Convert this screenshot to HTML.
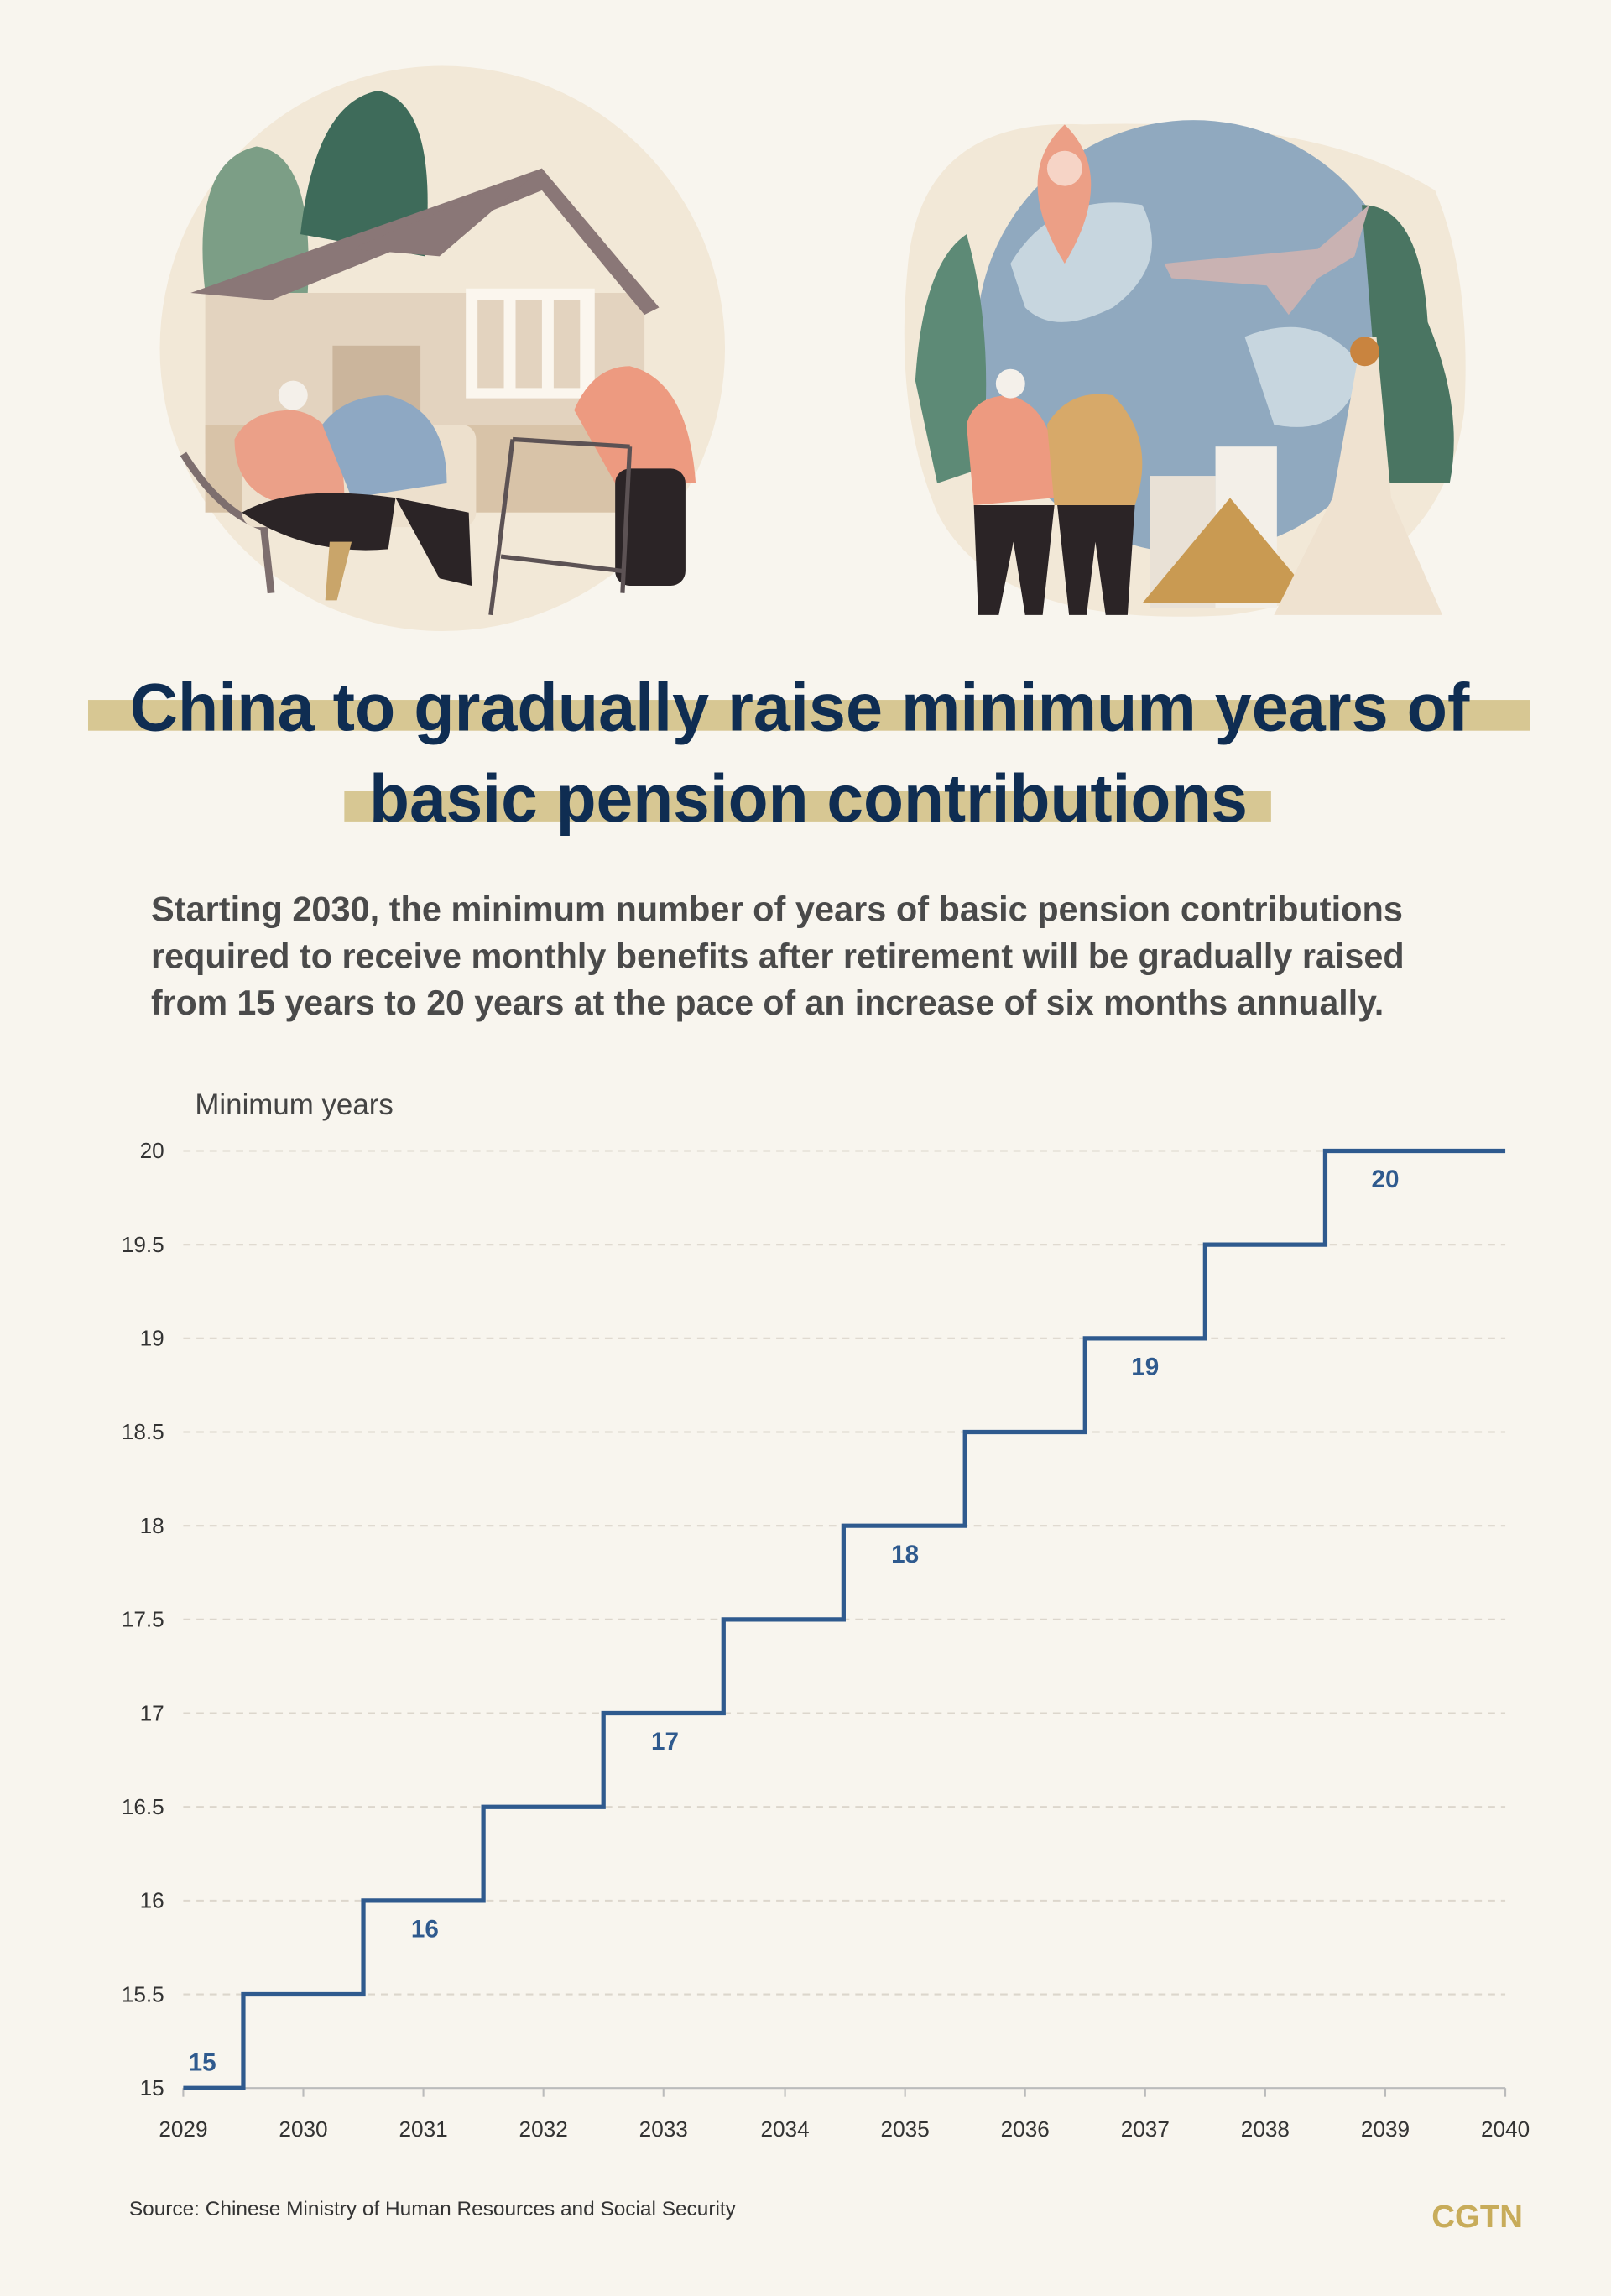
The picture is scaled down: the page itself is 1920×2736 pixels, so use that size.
<!DOCTYPE html>
<html><head><meta charset="utf-8"><style>
html,body{margin:0;padding:0;background:#f8f5ee;}
svg{display:block;}
</style></head><body>
<svg width="1920" height="2736" viewBox="0 0 1100 1568" xmlns="http://www.w3.org/2000/svg" font-family="Liberation Sans, sans-serif">
<rect width="1100" height="1568" fill="#f8f5ee"/>
<!-- left illustration -->
<circle cx="302" cy="238" r="193" fill="#f2e8d7"/>
<path d="M140 200 Q130 110 175 100 Q215 105 210 200Z" fill="#7c9e86"/>
<path d="M205 160 Q215 70 258 62 Q300 70 290 175Z" fill="#3e6b5a"/>
<rect x="140" y="200" width="300" height="110" fill="#e3d3bf"/>
<polygon points="130,200 370,115 450,210 440,215 370,130 185,205" fill="#8a7777"/>
<polygon points="240,170 370,115 300,175" fill="#8a7777"/>
<rect x="318" y="197" width="88" height="75" fill="#fbf6ee"/>
<rect x="326" y="205" width="18" height="60" fill="#e3d3bf"/><rect x="352" y="205" width="18" height="60" fill="#e3d3bf"/><rect x="378" y="205" width="18" height="60" fill="#e3d3bf"/>
<rect x="227" y="236" width="60" height="80" fill="#cbb59c"/>
<rect x="140" y="290" width="310" height="60" fill="#d8c3a8"/>
<path d="M125 310 Q150 350 180 360 L185 405" stroke="#7d6e6e" stroke-width="5" fill="none"/>
<rect x="165" y="290" width="160" height="70" rx="10" fill="#ede0cd"/>
<path d="M160 300 Q170 280 200 280 Q235 285 235 340 L200 345 Q160 340 160 300Z" fill="#eba088"/>
<circle cx="200" cy="270" r="10" fill="#f4f0ea"/>
<path d="M220 290 Q235 270 265 270 Q305 280 305 330 L240 340Z" fill="#8ea8c3"/>
<path d="M165 350 Q200 330 270 340 L265 375 Q210 380 165 350Z" fill="#2b2426"/>
<path d="M270 340 L320 350 L322 400 L300 395Z" fill="#2b2426"/>
<path d="M225 370 L240 370 L230 410 L222 410Z" fill="#c9a56a"/>
<path d="M392 280 Q405 250 430 250 Q470 260 475 330 L420 330Z" fill="#ed9a80"/>
<rect x="420" y="320" width="48" height="80" rx="10" fill="#2b2426"/>
<path d="M350 300 L335 420 M430 305 L425 405 M350 300 L430 305 M342 380 L425 390" stroke="#5c5254" stroke-width="3" fill="none"/>
<!-- right illustration -->
<path d="M620 180 Q630 80 740 85 Q900 80 980 130 Q1005 190 1000 280 Q985 400 840 420 Q680 430 640 350 Q610 280 620 180Z" fill="#f2e8d7"/>
<circle cx="815" cy="230" r="148" fill="#90a9bf"/>
<path d="M690 180 Q720 130 780 140 Q800 180 760 210 Q720 230 700 210Z" fill="#c7d6df"/>
<path d="M850 230 Q900 210 930 250 Q920 300 870 290Z" fill="#c7d6df"/>
<path d="M625 260 Q630 180 660 160 Q680 230 670 320 L640 330Z" fill="#5d8a76"/>
<path d="M930 140 Q970 140 975 220 Q1000 280 990 330 L945 330Z" fill="#4a7562"/>
<path d="M795 180 L900 170 L935 140 L925 175 L900 190 L880 215 L865 195 L800 190Z" fill="#c9b2b2"/>
<path d="M727 180 Q690 120 727 85 Q763 120 727 180Z" fill="#ec9f86"/>
<circle cx="727" cy="115" r="12" fill="#f6d4c6"/>
<rect x="785" y="325" width="45" height="90" fill="#e9e1d6"/><rect x="830" y="305" width="42" height="110" fill="#f3efe8"/>
<polygon points="780,412 840,340 900,412" fill="#c99a52"/>
<polygon points="870,420 910,340 930,230 940,230 950,340 985,420" fill="#efe2d0"/>
<circle cx="932" cy="240" r="10" fill="#c9843f"/>
<path d="M660 290 Q665 270 690 270 Q725 280 720 340 L665 345Z" fill="#ed9a80"/>
<circle cx="690" cy="262" r="10" fill="#f4f0ea"/>
<path d="M715 290 Q730 265 760 270 Q790 300 775 345 L720 345Z" fill="#d7a969"/>
<path d="M665 345 L720 345 L712 420 L700 420 L692 370 L682 420 L668 420Z" fill="#2b2426"/>
<path d="M722 345 L775 345 L770 420 L755 420 L748 370 L742 420 L730 420Z" fill="#2b2426"/>
<!-- title -->
<rect x="60" y="478" width="985" height="21" fill="#d7c793"/>
<rect x="235" y="540" width="633" height="21" fill="#d7c793"/>
<text x="546" y="499" text-anchor="middle" font-size="46" font-weight="bold" fill="#0f2d52" textLength="915" lengthAdjust="spacingAndGlyphs">China to gradually raise minimum years of</text>
<text x="552" y="561" text-anchor="middle" font-size="46" font-weight="bold" fill="#0f2d52" textLength="600" lengthAdjust="spacingAndGlyphs">basic pension contributions</text>
<g font-size="24" fill="#4a4a4a" font-weight="bold">
<text x="103" y="629" textLength="855" lengthAdjust="spacingAndGlyphs">Starting 2030, the minimum number of years of basic pension contributions</text>
<text x="103" y="661" textLength="856" lengthAdjust="spacingAndGlyphs">required to receive monthly benefits after retirement will be gradually raised</text>
<text x="103" y="693" textLength="842" lengthAdjust="spacingAndGlyphs">from 15 years to 20 years at the pace of an increase of six months annually.</text>
</g>
<text x="133" y="761" font-size="20" fill="#444">Minimum years</text>
<!-- grid -->
<g stroke="#dcd6cc" stroke-width="1.2" stroke-dasharray="5,4">
<line x1="125" x2="1028" y1="786" y2="786"/><line x1="125" x2="1028" y1="850" y2="850"/><line x1="125" x2="1028" y1="914" y2="914"/><line x1="125" x2="1028" y1="978" y2="978"/><line x1="125" x2="1028" y1="1042" y2="1042"/><line x1="125" x2="1028" y1="1106" y2="1106"/><line x1="125" x2="1028" y1="1170" y2="1170"/><line x1="125" x2="1028" y1="1234" y2="1234"/><line x1="125" x2="1028" y1="1298" y2="1298"/><line x1="125" x2="1028" y1="1362" y2="1362"/>
</g>
<line x1="125" x2="1028" y1="1426" y2="1426" stroke="#bbb" stroke-width="1.2"/>
<g stroke="#bbb" stroke-width="1.2">
<line x1="125" x2="125" y1="1426" y2="1432"/><line x1="207" x2="207" y1="1426" y2="1432"/><line x1="289" x2="289" y1="1426" y2="1432"/><line x1="371" x2="371" y1="1426" y2="1432"/><line x1="453" x2="453" y1="1426" y2="1432"/><line x1="536" x2="536" y1="1426" y2="1432"/><line x1="618" x2="618" y1="1426" y2="1432"/><line x1="700" x2="700" y1="1426" y2="1432"/><line x1="782" x2="782" y1="1426" y2="1432"/><line x1="864" x2="864" y1="1426" y2="1432"/><line x1="946" x2="946" y1="1426" y2="1432"/><line x1="1028" x2="1028" y1="1426" y2="1432"/>
</g>
<g font-size="15" fill="#333" text-anchor="end">
<text x="112" y="791">20</text><text x="112" y="855">19.5</text><text x="112" y="919">19</text><text x="112" y="983">18.5</text><text x="112" y="1047">18</text><text x="112" y="1111">17.5</text><text x="112" y="1175">17</text><text x="112" y="1239">16.5</text><text x="112" y="1303">16</text><text x="112" y="1367">15.5</text><text x="112" y="1431">15</text>
</g>
<g font-size="15" fill="#333" text-anchor="middle">
<text x="125" y="1459">2029</text><text x="207" y="1459">2030</text><text x="289" y="1459">2031</text><text x="371" y="1459">2032</text><text x="453" y="1459">2033</text><text x="536" y="1459">2034</text><text x="618" y="1459">2035</text><text x="700" y="1459">2036</text><text x="782" y="1459">2037</text><text x="864" y="1459">2038</text><text x="946" y="1459">2039</text><text x="1028" y="1459">2040</text>
</g>
<path d="M125 1426 H166 V1362 H248 V1298 H330 V1234 H412 V1170 H494 V1106 H576 V1042 H659 V978 H741 V914 H823 V850 H905 V786 H1028" fill="none" stroke="#2f5a8e" stroke-width="3"/>
<g font-size="17" font-weight="bold" fill="#2f5a8e" text-anchor="middle">
<text x="138" y="1414">15</text><text x="290" y="1323">16</text><text x="454" y="1195">17</text><text x="618" y="1067">18</text><text x="782" y="939">19</text><text x="946" y="811">20</text>
</g>
<text x="88" y="1513" font-size="14" fill="#333">Source: Chinese Ministry of Human Resources and Social Security</text>
<text x="1040" y="1521" text-anchor="end" font-size="22" font-weight="bold" fill="#c8ac5a">CGTN</text>
</svg>
</body></html>
